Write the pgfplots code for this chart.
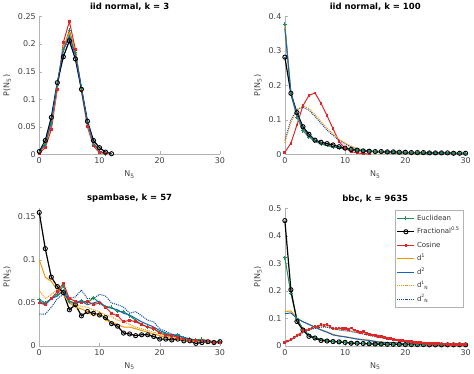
\documentclass[border=0pt]{standalone}
\usepackage{pgfplots}
\pgfplotsset{compat=1.18}
\usepackage{pgfplotstable}
\usepgfplotslibrary{groupplots}
\usepackage{fontspec}
\setmainfont{DejaVu Sans}
\definecolor{EucGreen}{RGB}{30,145,90}
\definecolor{CosRed}{RGB}{220,40,40}
\definecolor{DOrange}{RGB}{245,150,0}
\definecolor{DBlue}{RGB}{20,100,185}
\definecolor{DNBlue}{RGB}{15,70,165}
\newcommand{\dsn}[1]{d\raisebox{3.4pt}{\fontsize{4.5}{4.5}\selectfont #1}\raisebox{-1.6pt}{\fontsize{4.5}{4.5}\selectfont N}}

\pgfplotstableread{
x euc frac cos d1 d2 dn1 dn2
0 0.003 0.005 0.002 0.003 0.004 0.003 0.004
1 0.017 0.025 0.012 0.016 0.020 0.017 0.019
2 0.055 0.067 0.045 0.053 0.060 0.055 0.058
3 0.125 0.130 0.118 0.124 0.130 0.124 0.128
4 0.190 0.177 0.203 0.192 0.190 0.195 0.188
5 0.225 0.206 0.241 0.221 0.215 0.218 0.212
6 0.185 0.173 0.190 0.186 0.180 0.184 0.180
7 0.120 0.118 0.115 0.118 0.120 0.119 0.121
8 0.055 0.060 0.050 0.055 0.058 0.056 0.058
9 0.018 0.025 0.015 0.018 0.020 0.019 0.021
10 0.005 0.012 0.003 0.005 0.006 0.005 0.006
11 0.001 0.004 0.001 0.001 0.001 0.001 0.002
12 nan 0.001 nan nan nan nan nan
}\tA

\pgfplotstableread{
x euc frac cos d1 d2 dn1 dn2
0 0.378 0.282 0.006 0.370 0.365 0.033 0.040
1 0.175 0.177 0.032 0.178 0.180 0.092 0.100
2 0.108 0.121 0.085 0.112 0.115 0.128 0.130
3 0.068 0.080 0.141 0.072 0.075 0.141 0.137
4 0.050 0.058 0.171 0.052 0.054 0.133 0.128
5 0.037 0.041 0.178 0.039 0.040 0.115 0.110
6 0.030 0.035 0.148 0.031 0.032 0.095 0.090
7 0.025 0.031 0.112 0.026 0.026 0.076 0.070
8 0.021 0.027 0.074 0.022 0.022 0.059 0.055
9 0.018 0.022 0.037 0.018 0.019 0.044 0.040
10 0.015 0.018 0.017 0.015 0.016 0.033 0.030
11 0.013 0.014 0.008 0.013 0.013 0.024 0.021
12 0.011 0.012 0.004 0.011 0.011 0.017 0.015
13 0.010 0.010 0.002 0.010 0.010 0.012 0.011
14 0.009 0.009 0.001 0.009 0.009 0.009 0.008
15 0.008 0.008 nan 0.008 0.008 0.007 0.006
16 0.007 0.008 nan 0.007 0.007 0.005 0.005
17 0.0065 0.007 nan 0.0065 0.0065 0.004 0.004
18 0.006 0.007 nan 0.006 0.006 0.003 0.003
19 0.0055 0.006 nan 0.0055 0.0055 0.003 0.002
20 0.005 0.006 nan 0.005 0.005 0.002 0.002
21 0.0045 0.005 nan 0.0045 0.0045 0.002 0.002
22 0.004 0.005 nan 0.004 0.004 0.001 0.001
23 0.004 0.005 nan 0.004 0.004 0.001 0.001
24 0.0035 0.004 nan 0.0035 0.0035 0.001 0.001
25 0.003 0.004 nan 0.003 0.003 0.001 0.001
26 0.003 0.004 nan 0.003 0.003 0.001 0.001
27 0.0025 0.004 nan 0.0025 0.0025 0.001 0.001
28 0.0025 0.003 nan 0.0025 0.0025 0.001 0.001
29 0.002 0.003 nan 0.002 0.002 0.001 0.001
30 0.002 0.003 nan 0.002 0.002 0.001 0.001
}\tB

\pgfplotstableread{
x euc frac cos d1 d2 dn1 dn2
0 0.054 0.155 0.050 0.100 0.052 0.065 0.037
1 0.050 0.113 0.048 0.080 0.048 0.055 0.037
2 0.055 0.080 0.055 0.075 0.055 0.060 0.045
3 0.060 0.069 0.063 0.065 0.058 0.065 0.055
4 0.070 0.062 0.073 0.060 0.065 0.060 0.060
5 0.052 0.042 0.055 0.050 0.050 0.050 0.055
6 0.050 0.048 0.052 0.045 0.050 0.048 0.057
7 0.053 0.035 0.050 0.043 0.052 0.046 0.065
8 0.050 0.040 0.052 0.040 0.048 0.045 0.055
9 0.056 0.038 0.048 0.035 0.050 0.042 0.055
10 0.050 0.036 0.050 0.038 0.052 0.040 0.060
11 0.046 0.033 0.045 0.030 0.045 0.036 0.058
12 0.045 0.026 0.038 0.028 0.044 0.034 0.050
13 0.040 0.023 0.035 0.025 0.042 0.030 0.048
14 0.040 0.015 0.028 0.022 0.038 0.028 0.045
15 0.035 0.014 0.030 0.022 0.036 0.025 0.038
16 0.030 0.012 0.028 0.020 0.032 0.022 0.040
17 0.025 0.013 0.025 0.018 0.028 0.020 0.035
18 0.022 0.013 0.022 0.016 0.025 0.018 0.030
19 0.020 0.011 0.020 0.014 0.022 0.016 0.028
20 0.016 0.008 0.015 0.012 0.018 0.014 0.020
21 0.014 0.008 0.012 0.010 0.015 0.012 0.017
22 0.012 0.007 0.012 0.009 0.013 0.010 0.014
23 0.013 0.008 0.010 0.008 0.012 0.009 0.012
24 0.009 0.006 0.008 0.007 0.010 0.008 0.010
25 0.008 0.006 0.007 0.006 0.008 0.007 0.008
26 0.007 0.003 0.006 0.005 0.007 0.006 0.007
27 0.008 0.004 0.006 0.005 0.006 0.005 0.006
28 0.006 0.005 0.006 0.004 0.006 0.005 0.005
29 0.005 0.004 0.004 0.004 0.005 0.004 0.004
30 0.005 0.005 0.004 0.004 0.005 0.004 0.004
}\tC

\pgfplotstableread{
x euc frac d1 d2 dn1 dn2
0 0.320 0.455 0.125 0.117 0.012 0.010
1 0.190 0.204 0.127 0.120 0.025 0.022
2 0.100 0.089 0.100 0.100 0.040 0.036
3 0.062 0.058 0.088 0.088 0.052 0.048
4 0.040 0.035 0.079 0.078 0.062 0.058
5 0.030 0.029 0.069 0.068 0.068 0.064
6 0.024 0.020 0.059 0.058 0.072 0.068
7 0.020 0.018 0.051 0.050 0.070 0.068
8 0.017 0.016 0.042 0.040 0.064 0.062
9 0.015 0.015 0.037 0.036 0.060 0.058
10 0.013 0.013 0.034 0.033 0.058 0.055
11 0.011 0.010 0.030 0.029 0.055 0.052
12 0.010 0.010 0.026 0.025 0.050 0.048
13 0.009 0.009 0.023 0.022 0.045 0.043
14 0.008 0.008 0.021 0.020 0.040 0.038
15 0.007 0.007 0.017 0.016 0.035 0.034
16 0.007 0.007 0.014 0.013 0.031 0.030
17 0.006 0.006 0.013 0.012 0.027 0.026
18 0.006 0.006 0.012 0.012 0.023 0.022
19 0.005 0.006 0.010 0.010 0.020 0.019
20 0.005 0.005 0.008 0.008 0.017 0.016
21 0.005 0.005 0.007 0.007 0.015 0.014
22 0.004 0.005 0.006 0.006 0.013 0.012
23 0.004 0.005 0.006 0.006 0.011 0.010
24 0.004 0.004 0.005 0.005 0.010 0.009
25 0.004 0.004 0.004 0.004 0.008 0.008
26 0.003 0.004 0.004 0.004 0.007 0.007
27 0.003 0.004 0.003 0.003 0.006 0.006
28 0.003 0.004 0.003 0.003 0.005 0.005
29 0.003 0.004 0.002 0.002 0.005 0.005
30 0.003 0.004 0.002 0.002 0.004 0.004
}\tD

\pgfplotstableread{
x cos
0 0.012
0.5 0.018
1 0.024
1.5 0.030
2 0.037
2.5 0.043
3 0.055
3.5 0.056
4 0.060
4.5 0.065
5 0.070
5.5 0.072
6 0.077
6.5 0.075
7 0.079
7.5 0.070
8 0.064
8.5 0.062
9 0.065
9.5 0.063
10 0.062
10.5 0.060
11 0.065
11.5 0.058
12 0.052
12.5 0.050
13 0.052
13.5 0.045
14 0.041
14.5 0.040
15 0.037
15.5 0.035
16 0.033
16.5 0.030
17 0.028
17.5 0.026
18 0.024
18.5 0.022
19 0.020
19.5 0.019
20 0.018
20.5 0.016
21 0.015
21.5 0.014
22 0.013
22.5 0.012
23 0.011
23.5 0.010
24 0.010
24.5 0.009
25 0.008
25.5 0.008
26 0.007
26.5 0.007
27 0.006
27.5 0.006
28 0.005
28.5 0.005
29 0.005
29.5 0.004
30 0.004
}\tDcos

\pgfplotsset{
  every axis/.append style={
    font=\fontsize{8}{9.5}\selectfont,
    /pgf/number format/assume math mode=true,
  },
  sEuc/.style={color=EucGreen, line width=1pt, mark=+, mark size=1.8pt, mark options={solid}},
  sFrac/.style={color=black, line width=1.2pt, mark=o, mark size=2.1pt, mark options={solid, line width=0.9pt}},
  sCos/.style={color=CosRed, line width=1pt, mark=square*, mark size=0.9pt, mark options={solid}},
  sDa/.style={color=DOrange, line width=1pt, solid, mark=none},
  sDb/.style={color=DBlue, line width=1pt, solid, mark=none},
  sDNa/.style={color=DOrange, line width=1pt, densely dotted, mark=none},
  sDNb/.style={color=DNBlue, line width=1pt, densely dotted, mark=none},
}

\begin{document}
\begin{tikzpicture}
\begin{groupplot}[
  group style={group size=2 by 2, horizontal sep=65pt, vertical sep=54pt},
  width=181pt, height=138pt, scale only axis,
  xmin=0, xmax=30, ymin=0,
  xtick={0,10,20,30},
  axis x line*=bottom, axis y line*=left,
  axis line style={gray!60, -},
  tick style={gray!60},
  tick align=inside,
  major tick length=3pt,
  ticklabel style={text=black!75},
  xlabel={N\textsubscript{5}}, ylabel={P(N\textsubscript{5})},
  label style={text=black!75},
  title style={font=\fontsize{8.5}{10}\selectfont\bfseries, yshift=-4pt},
  unbounded coords=jump,
  scaled y ticks=false,
  yticklabel style={/pgf/number format/fixed},
  clip=false,
]
\nextgroupplot[title={iid normal, k = 3}, ymax=0.25, ytick={0,0.05,0.1,0.15,0.2,0.25}]
\addplot[sEuc] table[x=x,y=euc]{\tA};
\addplot[sCos] table[x=x,y=cos]{\tA};
\addplot[sDa] table[x=x,y=d1]{\tA};
\addplot[sDNa] table[x=x,y=dn1]{\tA};
\addplot[sDNb] table[x=x,y=dn2]{\tA};
\addplot[sFrac] table[x=x,y=frac]{\tA};
\addplot[sDb] table[x=x,y=d2]{\tA};

\nextgroupplot[title={iid normal, k = 100}, ymax=0.4, ytick={0,0.1,0.2,0.3,0.4}]
\addplot[sEuc] table[x=x,y=euc]{\tB};
\addplot[sCos] table[x=x,y=cos]{\tB};
\addplot[sDa] table[x=x,y=d1]{\tB};
\addplot[sDNb] table[x=x,y=dn2]{\tB};
\addplot[sDNa] table[x=x,y=dn1]{\tB};
\addplot[sFrac] table[x=x,y=frac]{\tB};
\addplot[sDb] table[x=x,y=d2]{\tB};

\nextgroupplot[title={spambase, k = 57}, ymax=0.16, ytick={0,0.05,0.1,0.15}]
\addplot[sEuc] table[x=x,y=euc]{\tC};
\addplot[sFrac] table[x=x,y=frac]{\tC};
\addplot[sCos] table[x=x,y=cos]{\tC};
\addplot[sDa] table[x=x,y=d1]{\tC};
\addplot[sDb] table[x=x,y=d2]{\tC};
\addplot[sDNa] table[x=x,y=dn1]{\tC};
\addplot[sDNb] table[x=x,y=dn2]{\tC};

\nextgroupplot[title={bbc, k = 9635}, ymax=0.5, ytick={0,0.1,0.2,0.3,0.4,0.5},
  legend style={at={(0.99,0.99)}, anchor=north east, draw=gray!60,
    font=\fontsize{7}{8}\selectfont, row sep=0.5pt, inner sep=2pt,
    nodes={text height=6.5pt, text depth=2.5pt},
    text=black!80},
  legend cell align=left]
\addplot[sEuc] table[x=x,y=euc]{\tD};
\addlegendentry{Euclidean}
\addplot[sFrac] table[x=x,y=frac]{\tD};
\addlegendentry{Fractional\textsuperscript{0.5}}
\addplot[sCos] table[x=x,y=cos]{\tDcos};
\addlegendentry{Cosine}
\addplot[sDa] table[x=x,y=d1]{\tD};
\addlegendentry{d\textsuperscript{1}}
\addplot[sDb] table[x=x,y=d2]{\tD};
\addlegendentry{d\textsuperscript{2}}
\addplot[sDNa] table[x=x,y=dn1]{\tD};
\addlegendentry{\dsn{1}}
\addplot[sDNb] table[x=x,y=dn2]{\tD};
\addlegendentry{\dsn{2}}
\end{groupplot}
\end{tikzpicture}
\end{document}
